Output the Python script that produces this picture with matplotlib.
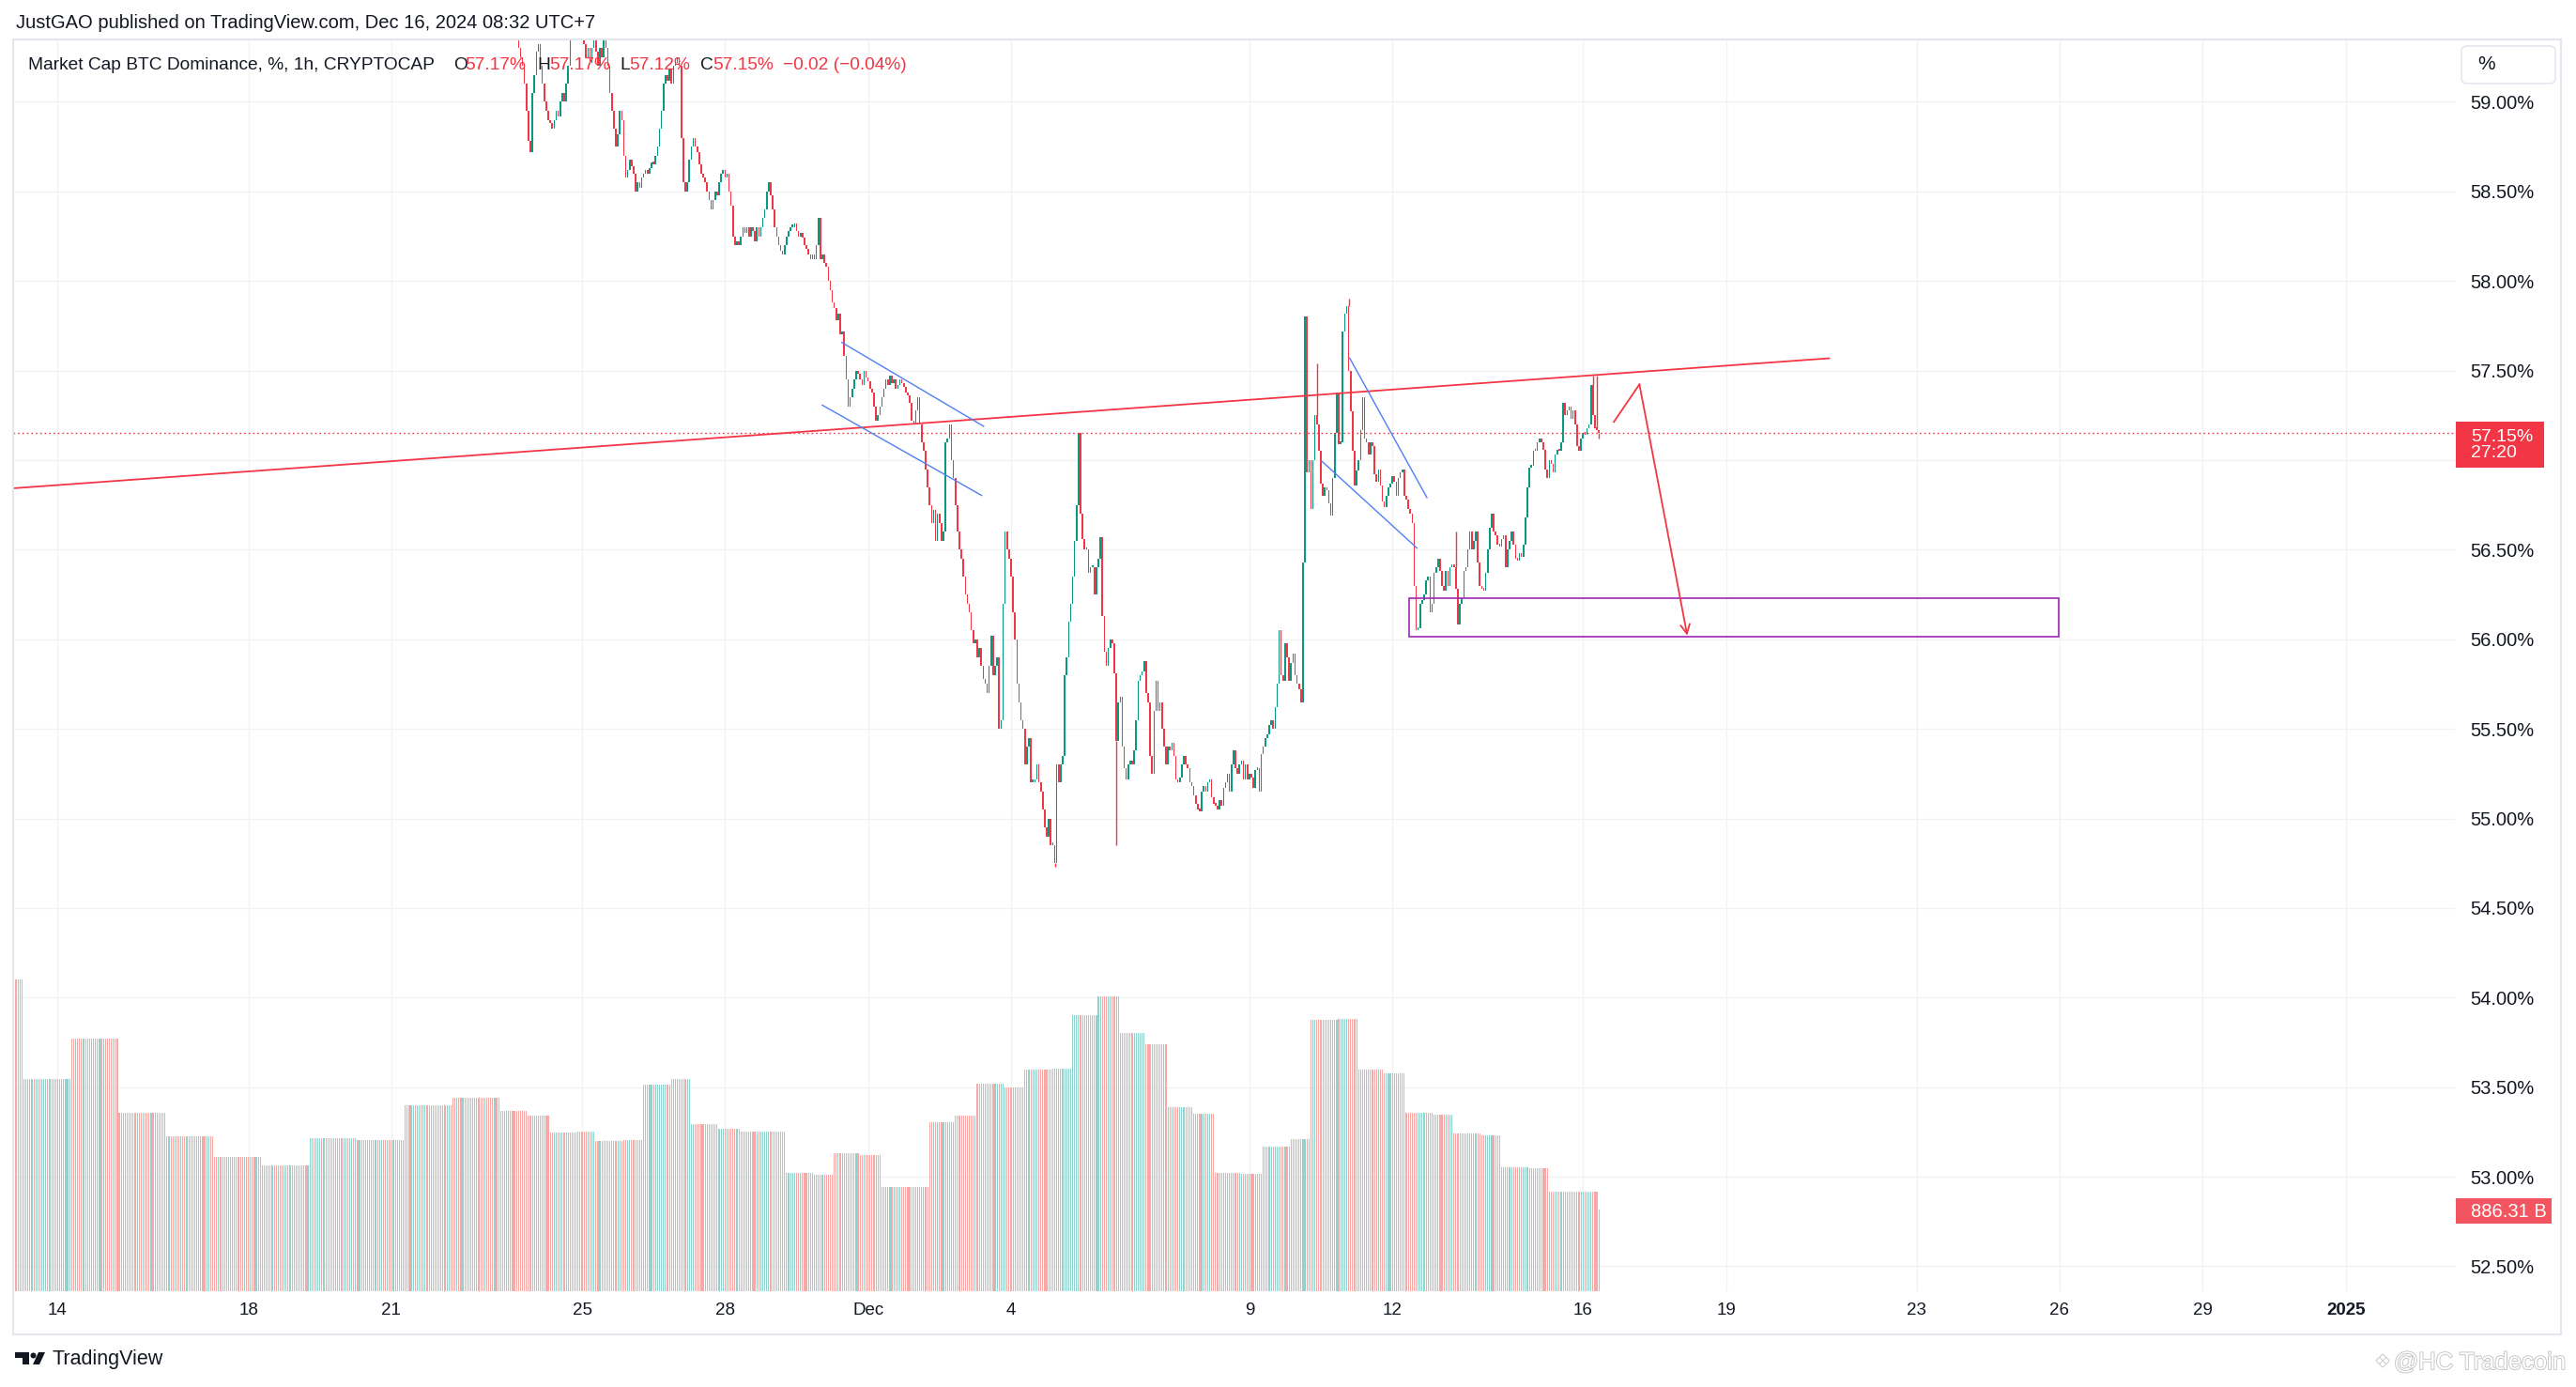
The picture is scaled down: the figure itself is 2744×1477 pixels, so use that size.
import numpy as np
import matplotlib
matplotlib.use("Agg")
import matplotlib.pyplot as plt
from matplotlib.patches import Rectangle, FancyBboxPatch, Polygon, Circle
import matplotlib.patheffects as pe

plt.rcParams['font.family'] = ['Liberation Sans', 'DejaVu Sans']

# ---- data: hours counted from Nov 14 2024 00:00 (UTC+7) ----
last_hour = 776
first_open = 59.62
close_pct = [
    59.55, 59.50, 59.42, 59.38, 59.30, 59.25, 59.20, 59.10, 58.95, 58.78, 58.72, 59.05,
    59.15, 59.28, 59.32, 59.20, 59.10, 59.00, 58.95, 58.90, 58.88, 58.85, 58.90, 58.95,
    58.92, 59.00, 59.05, 59.00, 59.10, 59.20, 59.35, 59.42, 59.48, 59.50, 59.45, 59.50,
    59.40, 59.32, 59.25, 59.30, 59.22, 59.30, 59.35, 59.28, 59.20, 59.30, 59.25, 59.35,
    59.30, 59.20, 59.05, 58.95, 58.85, 58.75, 58.82, 58.95, 58.90, 58.70, 58.58, 58.62,
    58.68, 58.64, 58.60, 58.50, 58.55, 58.52, 58.58, 58.60, 58.62, 58.60, 58.63, 58.66,
    58.65, 58.70, 58.75, 58.85, 58.95, 59.10, 59.15, 59.12, 59.18, 59.10, 59.20, 59.22,
    59.25, 59.20, 58.80, 58.55, 58.50, 58.55, 58.68, 58.75, 58.80, 58.75, 58.72, 58.65,
    58.60, 58.58, 58.55, 58.50, 58.45, 58.40, 58.45, 58.50, 58.48, 58.55, 58.60, 58.62,
    58.58, 58.60, 58.50, 58.42, 58.25, 58.20, 58.22, 58.20, 58.25, 58.30, 58.27, 58.30,
    58.25, 58.30, 58.28, 58.22, 58.30, 58.25, 58.30, 58.35, 58.40, 58.50, 58.55, 58.48,
    58.40, 58.30, 58.25, 58.20, 58.17, 58.15, 58.20, 58.25, 58.28, 58.30, 58.30, 58.32,
    58.28, 58.25, 58.27, 58.24, 58.20, 58.18, 58.15, 58.12, 58.15, 58.12, 58.20, 58.35,
    58.12, 58.15, 58.10, 58.08, 58.00, 57.95, 57.88, 57.85, 57.78, 57.82, 57.70, 57.72,
    57.58, 57.45, 57.30, 57.35, 57.40, 57.45, 57.50, 57.48, 57.45, 57.42, 57.50, 57.46,
    57.44, 57.40, 57.38, 57.30, 57.22, 57.25, 57.30, 57.35, 57.40, 57.45, 57.42, 57.47,
    57.43, 57.45, 57.40, 57.42, 57.45, 57.43, 57.41, 57.38, 57.36, 57.32, 57.22, 57.20,
    57.28, 57.35, 57.20, 57.10, 57.05, 56.95, 56.85, 56.75, 56.65, 56.72, 56.55, 56.70,
    56.65, 56.55, 56.60, 57.10, 57.12, 57.20, 57.00, 56.90, 56.75, 56.60, 56.50, 56.45,
    56.35, 56.25, 56.20, 56.15, 56.05, 55.98, 56.00, 55.90, 55.95, 55.85, 55.78, 55.75,
    55.70, 55.85, 56.02, 55.80, 55.85, 55.90, 55.50, 55.55, 56.20, 56.60, 56.50, 56.45,
    56.35, 56.15, 56.00, 55.75, 55.65, 55.55, 55.50, 55.30, 55.40, 55.45, 55.20, 55.20,
    55.22, 55.30, 55.20, 55.15, 55.05, 54.95, 54.90, 55.00, 54.85, 54.85, 54.75, 55.30,
    55.20, 55.30, 55.35, 55.80, 55.90, 56.10, 56.20, 56.35, 56.55, 56.75, 57.15, 56.70,
    56.56, 56.50, 56.50, 56.37, 56.40, 56.40, 56.25, 56.40, 56.45, 56.57, 56.13, 55.93,
    55.85, 55.95, 56.00, 55.98, 55.81, 55.43, 55.65, 55.68, 55.40, 55.28, 55.22, 55.30,
    55.32, 55.30, 55.38, 55.55, 55.77, 55.80, 55.82, 55.88, 55.70, 55.65, 55.35, 55.25,
    55.60, 55.77, 55.60, 55.65, 55.50, 55.40, 55.30, 55.40, 55.38, 55.42, 55.35, 55.22,
    55.20, 55.23, 55.30, 55.35, 55.30, 55.28, 55.20, 55.18, 55.13, 55.08, 55.05, 55.04,
    55.15, 55.18, 55.15, 55.20, 55.22, 55.12, 55.08, 55.07, 55.05, 55.10, 55.07, 55.17,
    55.20, 55.25, 55.15, 55.30, 55.38, 55.28, 55.25, 55.30, 55.32, 55.22, 55.30, 55.22,
    55.25, 55.23, 55.17, 55.27, 55.28, 55.15, 55.36, 55.40, 55.45, 55.47, 55.52, 55.55,
    55.50, 55.62, 55.75, 56.05, 55.80, 55.77, 55.98, 55.90, 55.77, 55.87, 55.92, 55.80,
    55.75, 55.72, 55.65, 56.43, 57.80, 56.93, 57.00, 56.73, 57.00, 57.25, 57.20, 57.05,
    56.87, 56.80, 56.85, 56.83, 56.76, 56.69, 56.90, 57.15, 57.38, 57.09, 57.10, 57.72,
    57.82, 57.86, 57.50, 57.27, 57.05, 56.86, 56.94, 57.00, 57.17, 57.35, 57.12, 57.10,
    57.03, 57.10, 57.08, 56.92, 56.88, 56.95, 56.86, 56.77, 56.74, 56.80, 56.85, 56.87,
    56.91, 56.88, 56.80, 56.90, 56.93, 56.95, 56.80, 56.78, 56.73, 56.70, 56.65, 56.30,
    56.05, 56.06, 56.20, 56.22, 56.25, 56.33, 56.35, 56.15, 56.20, 56.37, 56.40, 56.45,
    56.38, 56.30, 56.27, 56.38, 56.30, 56.40, 56.42, 56.40, 56.28, 56.08, 56.20, 56.23,
    56.38, 56.40, 56.50, 56.60, 56.50, 56.55, 56.60, 56.43, 56.30, 56.28, 56.27, 56.37,
    56.50, 56.62, 56.70, 56.60, 56.58, 56.53, 56.52, 56.56, 56.58, 56.40, 56.50, 56.55,
    56.60, 56.53, 56.45, 56.44, 56.48, 56.46, 56.53, 56.68, 56.85, 56.96, 56.97, 57.05,
    57.05, 57.10, 57.12, 57.10, 57.06, 56.95, 56.90, 57.00, 56.98, 56.93, 57.03, 57.06,
    57.05, 57.10, 57.32, 57.25, 57.28, 57.30, 57.23, 57.28, 57.20, 57.08, 57.05, 57.12,
    57.15, 57.14, 57.18, 57.20, 57.42, 57.25, 57.18, 57.17, 57.15,
]
wick_high = {634: 57.54, 650: 57.90, 704: 56.60, 773: 57.47, 775: 57.47}
wick_low = {502: 54.73, 533: 54.85, 776: 57.12}

# volume: value (billions) holds from each start hour to the next
vol_start = [-21, -17, 7, 31, 55, 79, 103, 127, 151, 175,
             199, 223, 237, 248, 262, 271, 285, 295, 309, 319,
             333, 344, 367, 381, 391, 404, 415, 439, 452, 463,
             477, 487, 501, 511, 524, 535, 548, 559, 572, 583,
             596, 607, 621, 631, 645, 655, 668, 679, 693, 703,
             717, 727, 741, 751, 776]
vol_value = [3383, 2303, 2741, 1936, 1681, 1457, 1365, 1661, 1640, 2017,
             2099, 1956, 1905, 1722, 1732, 1630, 1640, 2242, 2303, 1814,
             1763, 1732, 1284, 1263, 1498, 1477, 1131, 1834, 1905, 2252,
             2211, 2405, 2415, 2996, 3200, 2802, 2680, 1997, 1926, 1284,
             1274, 1569, 1651, 2945, 2955, 2405, 2364, 1936, 1916, 1712,
             1692, 1345, 1335, 1080, 886.31]
# bar direction for hours whose candles sit above the visible range
early_dirs = (
    "ddud"
    "uuduud" "uuduuu" "duuudu" "uuduuu"
    "dduddd" "udddud" "ddudud" "dddudd"
    "dduddu" "dddudd" "udddud" "dudddu"
    "duddud" "duddud" "dduddu" "dduudd"
    "ddudud" "dudduu" "dddudd" "uddudd"
    "uddudu" "dduddu" "ududdu" "dduddu"
    "uuduuu" "duuduu" "duuudu" "uduudu"
    "duudud" "uddudu" "uddudd" "uduudu"
    "uuduud" "uuduud" "uuduud" "uuduud"
    "dduddu" "dddudd" "udddud" "dddudd"
    "udduu"
)

date_ticks = [0, 96, 168, 264, 336, 408, 480, 600, 672, 768, 840, 936, 1008, 1080, 1152]
date_labels = ['14', '18', '21', '25', '28', 'Dec', '4', '9', '12', '16', '19', '23', '26', '29', '2025']
price_ticks = [52.5, 53.0, 53.5, 54.0, 54.5, 55.0, 55.5, 56.0, 56.5, 57.0, 57.5, 58.0, 58.5, 59.0]
last_price = 57.15

# drawings (hour, percent)
trend_x, trend_y = [-22.45, 892.4], [56.843, 57.569]
flag1_top_x, flag1_top_y = [394.8, 466.2], [57.657, 57.189]
flag1_bot_x, flag1_bot_y = [385.0, 465.2], [57.307, 56.803]
flag2_top_x, flag2_top_y = [650.5, 689.4], [57.570, 56.791]
flag2_bot_x, flag2_bot_y = [636.7, 684.4], [56.992, 56.509]
zone_x, zone_y = [680.4, 1007.5], [56.015, 56.230]
path_x, path_y = [783.5, 796.4, 820.5], [57.213, 57.423, 56.021]

# ---- colours / layout ----
UP, DOWN = '#089981', '#f23645'
VUP, VDOWN = '#92d2cc', '#f7a9a7'
TXT = '#131722'
W, HT = 2744, 1477
PL, PR, PT, PB = 14, 2615, 42, 1375
X0, X1 = -22.45, 1207.0
Y0, Y1 = 52.3605, 59.3486
VTOP = (PB - PT) * 886.31 / 87

fig = plt.figure(figsize=(W / 100, HT / 100), dpi=100, facecolor='white')
rect = (PL / W, 1 - PB / HT, (PR - PL) / W, (PB - PT) / HT)

gax = fig.add_axes(rect, zorder=0)
vax = fig.add_axes(rect, zorder=1)
ax = fig.add_axes(rect, zorder=2)
ov = fig.add_axes((0, 0, 1, 1), zorder=3)

# grid
gax.set_xlim(X0, X1); gax.set_ylim(Y0, Y1)
gax.hlines(price_ticks, X0, X1, color='#f0f2f6', lw=1.0)
gax.vlines(date_ticks, Y0, Y1, color='#f0f2f6', lw=1.0)
gax.axis('off')

# candles
closes = np.array(close_pct)
hours = np.arange(last_hour - len(closes) + 1, last_hour + 1)
opens = np.r_[first_open, closes[:-1]]
up = closes >= opens
lo = np.minimum(opens, closes)
hgt = np.maximum(np.abs(closes - opens), 0.015)
ax.bar(hours, hgt, bottom=lo, width=0.75, color=np.where(up, UP, DOWN), linewidth=0)
for h, v in wick_high.items():
    i = h - hours[0]
    ax.vlines(h, max(opens[i], closes[i]), v, color=UP if up[i] else DOWN, lw=1.0)
for h, v in wick_low.items():
    i = h - hours[0]
    ax.vlines(h, v, min(opens[i], closes[i]), color=UP if up[i] else DOWN, lw=1.0)

# volume
vh = np.arange(vol_start[0], last_hour + 1)
vols = np.array(vol_value)[np.searchsorted(vol_start, vh, side='right') - 1]
vcol = []
for h in vh:
    if h >= hours[0]:
        vcol.append(VUP if up[h - hours[0]] else VDOWN)
    else:
        k = h - vol_start[0]
        c = early_dirs[k] if k < len(early_dirs) else 'd'
        vcol.append(VUP if c == 'u' else VDOWN)
vax.bar(vh, vols, width=0.55, color=vcol, linewidth=0)
vax.set_xlim(X0, X1); vax.set_ylim(0, VTOP)
vax.axis('off')
vax.patch.set_visible(False)

# drawings
ax.plot(trend_x, trend_y, color=DOWN, lw=1.3, solid_capstyle='butt')
ax.axhline(last_price, color=DOWN, lw=1.0, ls=(0, (1.2, 2.2)))
for xs, ys in [(flag1_top_x, flag1_top_y), (flag1_bot_x, flag1_bot_y),
               (flag2_top_x, flag2_top_y), (flag2_bot_x, flag2_bot_y)]:
    ax.plot(xs, ys, color='#4f7ff5', lw=1.0)
ax.add_patch(Rectangle((zone_x[0], zone_y[0]), zone_x[1] - zone_x[0], zone_y[1] - zone_y[0],
                       fill=False, ec='#9c27b0', lw=1.2))
ax.plot(path_x[:2], path_y[:2], color=DOWN, lw=1.3)
ax.annotate('', xy=(path_x[2], path_y[2]), xytext=(path_x[1], path_y[1]),
            arrowprops=dict(arrowstyle='->,head_length=0.7,head_width=0.35',
                            color=DOWN, lw=1.3, shrinkA=0, shrinkB=0))

ax.set_xlim(X0, X1); ax.set_ylim(Y0, Y1)
ax.patch.set_visible(False)
for s in ax.spines.values():
    s.set_visible(False)
ax.yaxis.tick_right()
# the 57.00% label sits under the last-price marker, as on the chart
ax.set_yticks(price_ticks, ['' if v == 57.0 else f"{v:.2f}%" for v in price_ticks])
ax.set_xticks(date_ticks, date_labels)
ax.tick_params(axis='y', length=0, pad=12, labelsize=14.5, labelcolor=TXT)
ax.tick_params(axis='x', length=0, pad=9, labelsize=13.5, labelcolor=TXT)
ax.get_xticklabels()[-1].set_fontweight('bold')

# overlay chrome in pixel coordinates
ov.set_xlim(0, W); ov.set_ylim(HT, 0)
ov.axis('off')
ov.patch.set_visible(False)
ov.add_patch(Rectangle((PL, PT), 2728 - PL, 1421 - PT, fill=False, ec='#e3e6ec', lw=1.5))
ov.text(17, 25, "JustGAO published on TradingView.com, Dec 16, 2024 08:32 UTC+7",
        fontsize=14.5, color=TXT, va='center')

legend = [(29.5, "Market Cap BTC Dominance, %, 1h, CRYPTOCAP", TXT),
          (483, "O", TXT), (495, "57.17%", DOWN),
          (572, "H", TXT), (585, "57.17%", DOWN),
          (660, "L", TXT), (670, "57.12%", DOWN),
          (746, "C", TXT), (759, "57.15%", DOWN),
          (834, "\u22120.02 (\u22120.04%)", DOWN)]
for x, s, c in legend:
    ov.text(x, 69, s, fontsize=13.8, color=c, va='center')

ov.add_patch(FancyBboxPatch((2622, 49), 100, 40, boxstyle='round,pad=0,rounding_size=6',
                            fc='white', ec='#e0e3eb', lw=1.0))
ov.text(2639, 69, "%", fontsize=15, color=TXT, va='center')

ov.add_patch(Rectangle((2616, 449), 94, 49, fc=DOWN, ec='none'))
ov.text(2632, 474, "57.15%\n27:20", fontsize=14, color='white', va='center',
        linespacing=1.0)

ov.add_patch(Rectangle((2616, 1276), 102, 27, fc='#f25560', ec='none'))
ov.text(2632, 1290, "886.31 B", fontsize=14.5, color='white', va='center')

# TradingView logo
ov.add_patch(Polygon([(16, 1440), (31, 1440), (31, 1453), (24, 1453), (24, 1446), (16, 1446)],
                     closed=True, fc=TXT, ec='none'))
ov.add_patch(Circle((35.5, 1443.5), 3.0, fc=TXT, ec='none'))
ov.add_patch(Polygon([(41, 1440), (48, 1440), (42, 1453), (35, 1453)], closed=True, fc=TXT, ec='none'))
ov.text(55, 1447, "TradingView", fontsize=15.5, color=TXT, va='center')

# watermark
wm = [pe.withStroke(linewidth=1.3, foreground='#c4c4c4')]
ov.text(2530, 1451, "\u2756", fontsize=13, color='white', va='center', path_effects=wm)
ov.text(2550, 1451, "@HC Tradecoin", fontsize=18.5, color='white', va='center', path_effects=wm)

fig.savefig("out.png", dpi=100, facecolor='white')
